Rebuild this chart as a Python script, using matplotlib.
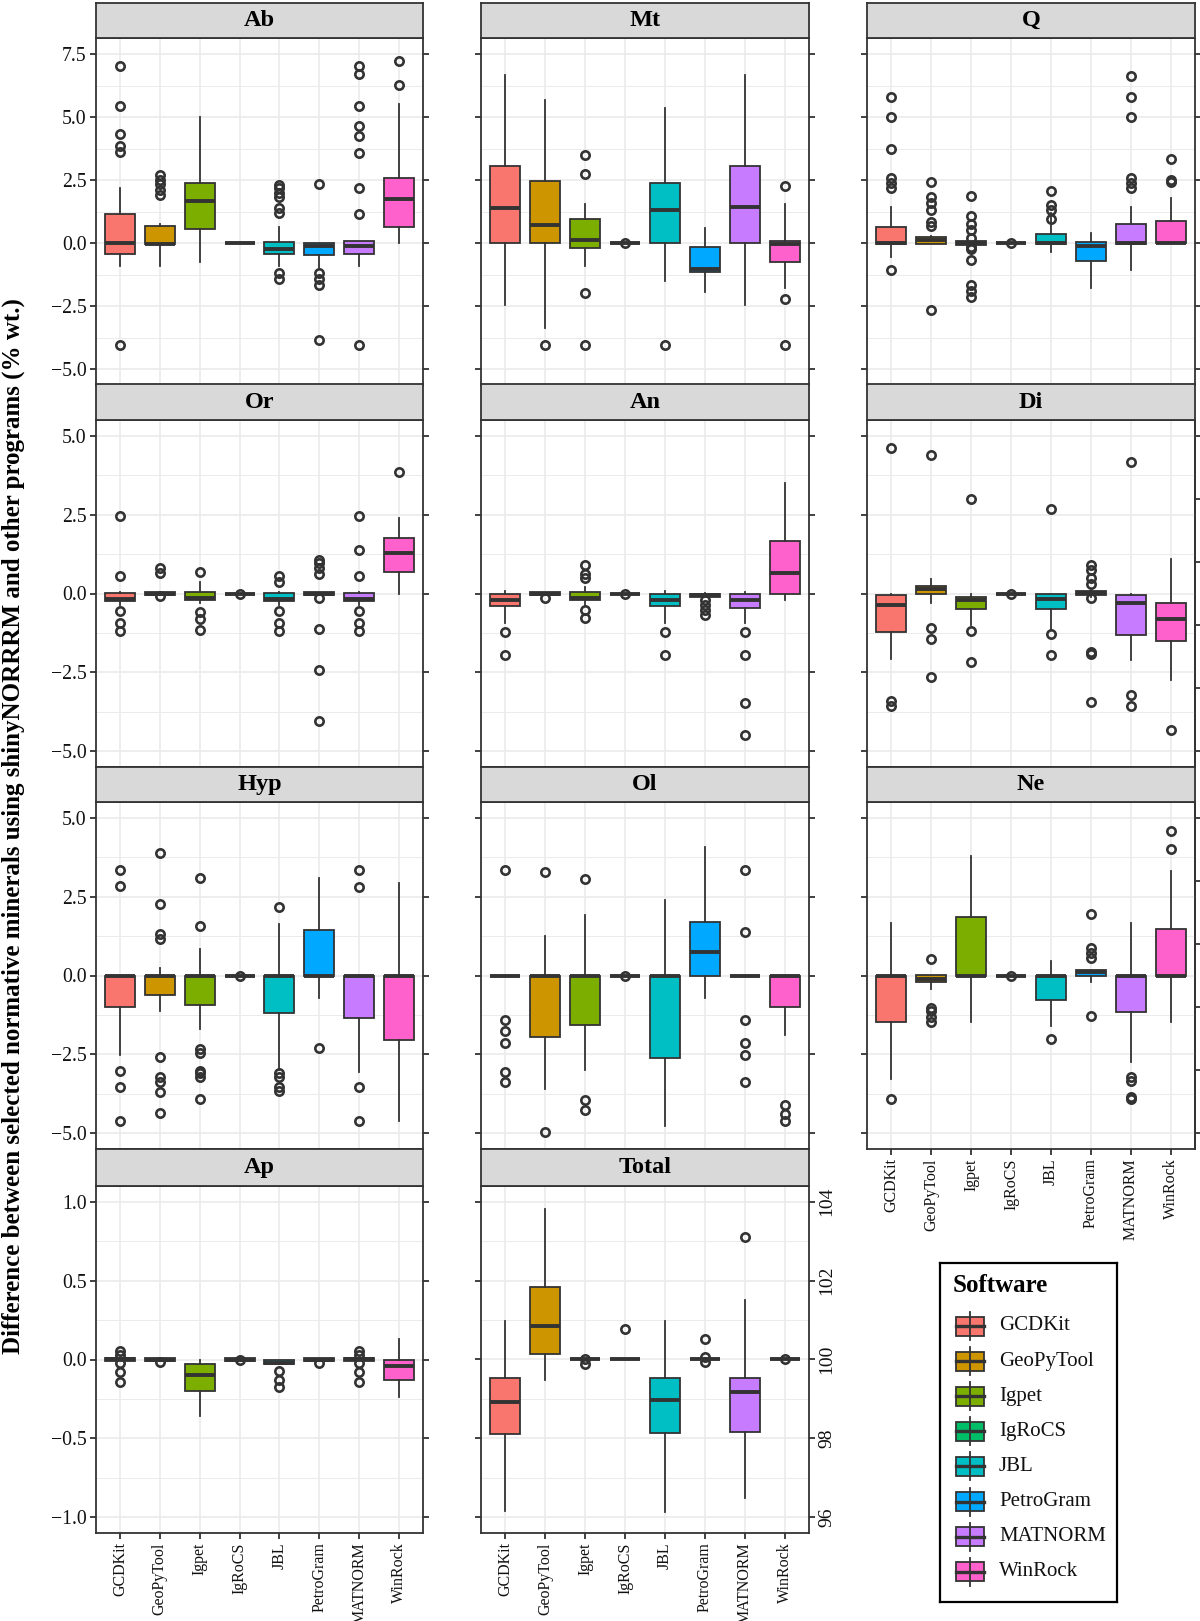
import matplotlib
matplotlib.use('Agg')
import matplotlib.pyplot as plt
from matplotlib.patches import Rectangle
from matplotlib.lines import Line2D

plt.rcParams['font.family'] = ['Liberation Serif', 'DejaVu Serif']
plt.rcParams['axes.unicode_minus'] = True

SOFTWARE = ["GCDKit", "GeoPyTool", "Igpet", "IgRoCS", "JBL", "PetroGram", "MATNORM", "WinRock"]
COLORS = ["#F8766D", "#CD9600", "#7CAE00", "#00BE67", "#00BFC4", "#00A9FF", "#C77CFF", "#FF61CC"]
YLABEL = "Difference between selected normative minerals using shinyNORRRM and other programs (% wt.)"

# per software: [lower whisker, Q1, median, Q3, upper whisker]
AB_STATS = [[-0.90, -0.42, 0.00, 1.14, 2.17], [-0.92, -0.05, -0.03, 0.70, 0.76],
            [-0.76, 0.55, 1.66, 2.37, 5.00], [0, 0, 0, 0, 0],
            [-0.92, -0.43, -0.24, 0.03, 0.63], [-1.00, -0.46, -0.13, 0.00, 0.00],
            [-0.90, -0.43, -0.10, 0.10, 0.10], [0.00, 0.63, 1.76, 2.60, 5.53]]
AB_OUT = [[7.01, 5.45, 4.32, 3.86, 3.62, -4.03], [2.70, 2.50, 2.33, 2.10, 1.90], [], [],
          [2.30, 2.17, 2.00, 1.84, 1.38, 1.18, -1.18, -1.42], [2.33, -1.18, -1.42, -1.67, -3.86],
          [7.04, 6.71, 5.45, 4.66, 4.24, 3.59, 2.17, 1.14, -4.03], [7.24, 6.29]]

MT_STATS = [[-2.46, 0.00, 1.41, 3.07, 6.67], [-3.36, 0.00, 0.72, 2.46, 5.68],
            [-0.90, -0.21, 0.13, 0.95, 1.54], [0, 0, 0, 0, 0],
            [-1.51, 0.00, 1.32, 2.39, 5.37], [-1.93, -1.16, -1.03, -0.17, 0.59],
            [-2.46, 0.00, 1.42, 3.07, 6.67], [-1.78, -0.75, -0.04, 0.10, 1.55]]
MT_OUT = [[], [-4.05], [3.49, 2.74, -1.97, -4.05], [0.0], [-4.05], [], [], [2.28, -2.21, -4.05]]

Q_STATS = [[-0.55, -0.04, 0.00, 0.63, 1.42], [-0.04, -0.04, 0.13, 0.24, 0.30],
           [-0.07, -0.07, 0.00, 0.07, 0.07], [0, 0, 0, 0, 0],
           [-0.36, -0.04, 0.00, 0.37, 1.18], [-1.78, -0.72, -0.10, 0.03, 0.42],
           [-1.08, -0.04, 0.00, 0.75, 1.42], [0.00, 0.00, 0.00, 0.88, 1.80]]
Q_OUT = [[5.79, 5.00, 3.72, 2.57, 2.37, 2.17, -1.05], [2.43, 1.82, 1.58, 1.32, 0.82, 0.68, -2.66],
         [1.87, 1.08, 0.76, 0.53, 0.20, -0.15, -0.22, -0.66, -1.67, -1.91, -2.14], [0.0],
         [2.08, 1.51, 1.32, 0.96], [], [6.64, 5.79, 5.00, 2.57, 2.37, 2.17], [3.32, 2.50, 2.43]]

OR_STATS = [[-0.35, -0.23, -0.17, 0.01, 0.06], [-0.04, -0.04, 0.00, 0.04, 0.04],
            [-0.30, -0.20, -0.13, 0.05, 0.36], [0, 0, 0, 0, 0],
            [-0.35, -0.23, -0.17, 0.01, 0.06], [-0.04, -0.04, 0.00, 0.04, 0.04],
            [-0.35, -0.23, -0.17, 0.01, 0.06], [0.00, 0.68, 1.28, 1.75, 2.38]]
OR_OUT = [[2.47, 0.54, -0.57, -0.94, -1.20], [0.82, 0.64, -0.07], [0.68, -0.59, -0.80, -1.17], [0.0],
          [0.57, 0.36, -0.57, -0.94, -1.20], [1.07, 0.96, 0.80, 0.62, -0.15, -1.12, -2.42, -4.05],
          [2.46, 1.38, 0.54, -0.57, -0.94, -1.20], [3.84]]

AN_STATS = [[-0.94, -0.39, -0.20, 0.00, 0.07], [-0.04, -0.04, 0.00, 0.04, 0.04],
            [-0.35, -0.20, -0.13, 0.04, 0.22], [0, 0, 0, 0, 0],
            [-0.94, -0.39, -0.20, 0.00, 0.07], [-0.10, -0.10, -0.05, 0.00, 0.02],
            [-0.94, -0.46, -0.20, -0.02, 0.06], [-0.20, 0.00, 0.64, 1.68, 3.49]]
AN_OUT = [[-1.23, -1.94], [-0.15], [0.89, 0.61, 0.49, -0.52, -0.78], [0.0], [-1.23, -1.94],
          [-0.20, -0.36, -0.52, -0.68], [-1.23, -1.94, -3.47, -4.47], []]

DI_STATS = [[-2.08, -1.22, -0.37, -0.06, 0.00], [-0.31, -0.02, 0.15, 0.24, 0.45],
            [-1.00, -0.50, -0.20, -0.12, 0.00], [0, 0, 0, 0, 0],
            [-1.15, -0.50, -0.18, 0.00, 0.00], [-0.10, -0.05, 0.02, 0.07, 0.10],
            [-2.12, -1.31, -0.30, -0.06, 0.00], [-2.73, -1.52, -0.81, -0.31, 1.09]]
DI_OUT = [[4.62, -3.42, -3.56], [4.39, -1.10, -1.45, -2.65], [2.99, -1.18, -2.17], [0.0],
          [2.67, -1.28, -1.94], [0.89, 0.75, 0.49, 0.30, -0.15, -1.84, -1.91, -3.44],
          [4.18, -3.23, -3.56], [-4.34]]

HYP_STATS = [[-2.51, -1.01, 0.00, 0.00, 0.00], [-1.11, -0.61, 0.00, 0.00, 0.23],
             [-1.69, -0.93, 0.00, 0.00, 0.84], [0, 0, 0, 0, 0],
             [-2.98, -1.19, 0.00, 0.00, 1.64], [-0.70, 0.00, 0.00, 1.45, 3.08],
             [-3.06, -1.35, 0.00, 0.00, 0.00], [-4.60, -2.06, 0.00, 0.00, 2.92]]
HYP_OUT = [[3.36, 2.84, -3.04, -3.53, -4.60], [3.87, 2.27, 1.31, 1.15, -2.58, -3.23, -3.38, -3.69, -4.35],
           [3.10, 1.58, -2.32, -2.46, -3.02, -3.09, -3.23, -3.91], [0.0],
           [2.18, -3.09, -3.23, -3.54, -3.67], [-2.30], [3.34, 2.82, -3.54, -4.60], []]

OL_STATS = [[0, 0, 0, 0, 0], [-3.59, -1.95, 0.00, 0.00, 1.26],
            [-2.98, -1.56, 0.00, 0.00, 1.92], [0, 0, 0, 0, 0],
            [-4.77, -2.62, 0.00, 0.00, 2.39], [-0.72, 0.00, 0.74, 1.71, 4.08],
            [0, 0, 0, 0, 0], [-1.90, -1.00, 0.00, 0.00, 0.00]]
OL_OUT = [[3.34, -1.42, -1.75, -2.14, -3.06, -3.38], [3.27, -4.97], [3.05, -3.96, -4.25], [0.0], [], [],
          [3.34, 1.39, -1.42, -2.14, -2.53, -3.38], [-4.11, -4.40, -4.62]]

NE_STATS = [[-3.27, -1.48, 0.00, 0.00, 1.66], [-0.42, -0.22, -0.12, 0.02, 0.02],
            [-1.46, 0.00, 0.00, 1.84, 3.79], [0, 0, 0, 0, 0],
            [-1.61, -0.79, 0.00, 0.00, 0.47], [-0.21, -0.03, 0.10, 0.18, 0.18],
            [-2.75, -1.16, 0.00, 0.00, 1.66], [-1.46, 0.00, 0.00, 1.47, 3.32]]
NE_OUT = [[-3.93], [0.53, -1.03, -1.14, -1.30, -1.48], [], [0.0], [-2.00],
          [1.94, 0.86, 0.71, 0.55, -1.28], [-3.23, -3.35, -3.86, -3.93], [4.58, 4.01]]

AP_STATS = [[-0.01, -0.01, 0.005, 0.01, 0.01], [-0.008, -0.008, 0.00, 0.008, 0.008],
            [-0.36, -0.20, -0.10, -0.03, -0.006], [-0.01, -0.01, 0.00, 0.01, 0.01],
            [-0.03, -0.03, -0.02, 0.00, 0.00], [-0.008, -0.008, 0.00, 0.008, 0.008],
            [-0.01, -0.01, 0.005, 0.01, 0.01], [-0.24, -0.13, -0.044, -0.006, 0.127]]
AP_OUT = [[0.055, 0.03, -0.02, -0.08, -0.14], [-0.017], [], [0.0], [-0.07, -0.13, -0.175],
          [-0.023], [0.055, 0.03, -0.02, -0.08, -0.14], []]

TOTAL_STATS = [[96.16, 98.10, 98.92, 99.54, 100.97], [99.48, 100.15, 100.84, 101.85, 103.81],
               [100, 100, 100, 100, 100], [100, 100, 100, 100, 100],
               [96.14, 98.13, 98.97, 99.54, 100.98], [100, 100, 100, 100, 100],
               [96.48, 98.17, 99.18, 99.54, 101.50], [100, 100, 100, 100, 100]]
TOTAL_OUT = [[], [], [100.02, 99.88], [100.78], [], [100.53, 100.07, 99.94], [103.10], [100.0]]

ROW_TICKS = [[-5.0, -2.5, 0.0, 2.5, 5.0, 7.5], [-5.0, -2.5, 0.0, 2.5, 5.0],
             [-5.0, -2.5, 0.0, 2.5, 5.0], [-1.0, -0.5, 0.0, 0.5, 1.0]]
ROW_MINOR = [[-3.75, -1.25, 1.25, 3.75, 6.25], [-3.75, -1.25, 1.25, 3.75],
             [-3.75, -1.25, 1.25, 3.75], [-0.75, -0.25, 0.25, 0.75]]
ROW_LIMS = [(-5.625, 8.125), (-5.5, 5.5), (-5.5, 5.5), (-1.1, 1.1)]
TOTAL_TICKS = [96, 98, 100, 102, 104]
TOTAL_MINOR = [97, 99, 101, 103]
ODD_RIGHT_TICKS = [5, 3, 1, -1, -3, -5]

W, H = 1200, 1621
LINE = "#333333"
TXT = "#111111"
GRID = "#EBEBEB"
LW = 1.3

fig = plt.figure(figsize=(W / 100, H / 100), dpi=100)
fig.patch.set_facecolor('white')

COLS = [(96, 423), (481, 809), (867, 1195)]
ROWS = [(2.7, 38.3, 385), (384, 420, 767), (767, 802, 1149), (1149, 1186, 1533)]


def rect(l, r, t, b):
    return [l / W, 1 - b / H, (r - l) / W, (b - t) / H]


def make_strip(l, r, t, b, title):
    s = fig.add_axes(rect(l, r, t, b))
    s.set_facecolor('#D9D9D9')
    s.set_xticks([])
    s.set_yticks([])
    for sp in s.spines.values():
        sp.set_color(LINE)
        sp.set_linewidth(LW)
    s.text(0.5, 0.5, title, ha='center', va='center', fontsize=17.5, fontweight='bold',
           color='black', transform=s.transAxes)
    s.set_zorder(3)
    return s


def draw_panel(ax, stats, outs):
    bs = []
    for s, o, lab in zip(stats, outs, SOFTWARE):
        bs.append(dict(whislo=s[0], q1=s[1], med=s[2], q3=s[3], whishi=s[4], fliers=o, label=lab))
    art = ax.bxp(bs, positions=list(range(1, 9)), widths=0.75, patch_artist=True,
                 showcaps=False, showfliers=True,
                 boxprops=dict(edgecolor=LINE, linewidth=LW),
                 medianprops=dict(color=LINE, linewidth=2.8, solid_capstyle='butt'),
                 whiskerprops=dict(color=LINE, linewidth=LW),
                 flierprops=dict(marker='o', markerfacecolor='none', markeredgecolor=LINE,
                                 markersize=6.0, markeredgewidth=1.9))
    for patch, c in zip(art['boxes'], COLORS):
        patch.set_facecolor(c)


def style_axes(ax, ticks, minor, lims, xlabels):
    ax.set_xlim(0.4, 8.6)
    ax.set_ylim(*lims)
    ax.set_yticks(ticks)
    ax.set_yticks(minor, minor=True)
    ax.set_xticks(list(range(1, 9)))
    ax.set_axisbelow(True)
    ax.grid(axis='x', which='major', color=GRID, linewidth=1.2)
    ax.grid(axis='y', which='major', color=GRID, linewidth=1.2)
    ax.grid(axis='y', which='minor', color=GRID, linewidth=0.7)
    for sp in ax.spines.values():
        sp.set_color(LINE)
        sp.set_linewidth(LW)
    ax.tick_params(axis='both', which='major', direction='out', length=4.2, width=LW,
                   color=LINE, labelcolor=TXT, pad=2.5)
    ax.tick_params(axis='y', which='minor', length=0)
    ax.tick_params(axis='x', which='minor', length=0)
    if xlabels:
        ax.set_xticklabels(SOFTWARE, rotation=90, fontsize=11.5)
    else:
        ax.tick_params(axis='x', bottom=False, labelbottom=False)


def fmt_ticks(ticks, decimals=1):
    out = []
    for t in ticks:
        s = f"{abs(t):.{decimals}f}"
        out.append(("\u2212" + s) if t < 0 else s)
    return out


PANELS = [
    ("Ab", AB_STATS, AB_OUT, 0, 0), ("Mt", MT_STATS, MT_OUT, 0, 1), ("Q", Q_STATS, Q_OUT, 0, 2),
    ("Or", OR_STATS, OR_OUT, 1, 0), ("An", AN_STATS, AN_OUT, 1, 1), ("Di", DI_STATS, DI_OUT, 1, 2),
    ("Hyp", HYP_STATS, HYP_OUT, 2, 0), ("Ol", OL_STATS, OL_OUT, 2, 1), ("Ne", NE_STATS, NE_OUT, 2, 2),
    ("Ap", AP_STATS, AP_OUT, 3, 0), ("Total", TOTAL_STATS, TOTAL_OUT, 3, 1),
]

for name, stats, outs, r, c in PANELS:
    l, rr = COLS[c]
    st, pt, pb = ROWS[r]
    ax = fig.add_axes(rect(l, rr, pt, pb))
    make_strip(l, rr, st, pt, name)
    draw_panel(ax, stats, outs)
    xlabels = (r == 3) or (name == "Ne")
    if name == "Total":
        style_axes(ax, TOTAL_TICKS, TOTAL_MINOR, (95.6, 104.4), xlabels)
        ax.tick_params(axis='y', left=True, right=True, labelleft=False, labelright=True,
                       labelsize=14, labelrotation=90)
        ax.set_yticklabels([str(t) for t in TOTAL_TICKS])
        for lab in ax.get_yticklabels():
            lab.set_va('center')
    else:
        style_axes(ax, ROW_TICKS[r], ROW_MINOR[r], ROW_LIMS[r], xlabels)
        ax.set_yticklabels(fmt_ticks(ROW_TICKS[r]))
        ax.tick_params(axis='y', labelsize=14.2)
        if c > 0:
            ax.tick_params(axis='y', labelleft=False)
        if name in ("Di", "Ne"):
            ax.tick_params(axis='y', right=False)
            sec = ax.secondary_yaxis('right')
            sec.set_yticks(ODD_RIGHT_TICKS)
            sec.set_yticklabels([])
            sec.tick_params(direction='out', length=4.2, width=LW, color=LINE)
            sec.spines['right'].set_color(LINE)
            sec.spines['right'].set_linewidth(LW)
        else:
            ax.tick_params(axis='y', right=True, labelright=False)

# y-axis title
fig.text(13.5 / W, 1 - 826 / H, YLABEL, rotation=90, ha='center', va='center',
         fontsize=18, fontweight='bold', color='black')

# legend
LL, LR, LT, LB = 940, 1117, 1263, 1602
lax = fig.add_axes(rect(LL, LR, LT, LB))
lax.set_xlim(LL, LR)
lax.set_ylim(LB, LT)
lax.set_xticks([])
lax.set_yticks([])
for sp in lax.spines.values():
    sp.set_color('black')
    sp.set_linewidth(1.6)
lax.text(953, 1285, "Software", ha='left', va='center', fontsize=18, fontweight='bold', color='black')
KEY_X = 970
KEY_Y0 = 1326
KEY_DY = 35.1
for i, (lab, col) in enumerate(zip(SOFTWARE, COLORS)):
    yc = KEY_Y0 + i * KEY_DY
    lax.add_line(Line2D([KEY_X, KEY_X], [yc - 14, yc + 14], color=LINE, linewidth=LW))
    lax.add_patch(Rectangle((KEY_X - 14, yc - 9.5), 28, 19, facecolor=col, edgecolor=LINE, linewidth=LW))
    lax.add_line(Line2D([KEY_X - 14, KEY_X + 14], [yc, yc], color=LINE, linewidth=2.4))
    lax.text(999, yc, lab, ha='left', va='center', fontsize=15, color=TXT)

fig.savefig("out.png", dpi=100, facecolor='white')
